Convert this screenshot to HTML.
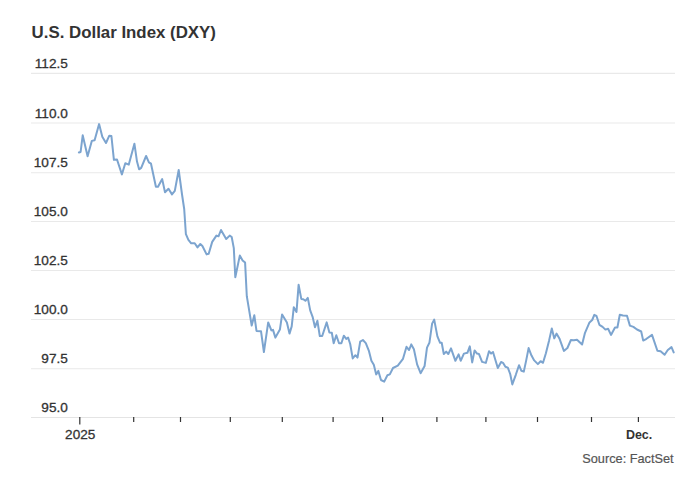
<!DOCTYPE html>
<html><head><meta charset="utf-8"><style>
html,body{margin:0;padding:0;background:#fff;}
body{width:687px;height:500px;overflow:hidden;position:relative;}
svg{position:absolute;left:0;top:0;}
text{font-family:"Liberation Sans",sans-serif;}
.yl{font-size:13.6px;fill:#333;stroke:#333;stroke-width:0.3px;}
</style></head><body>
<svg width="687" height="500" viewBox="0 0 687 500">
<text x="31.6" y="37.9" font-size="16.3" font-weight="bold" fill="#333" textLength="184.3" lengthAdjust="spacingAndGlyphs">U.S. Dollar Index (DXY)</text>
<line x1="31" x2="675" y1="73.4" y2="73.4" stroke="#e9e9e9" stroke-width="1.1"/>
<line x1="31" x2="675" y1="123.0" y2="123.0" stroke="#e9e9e9" stroke-width="1.1"/>
<line x1="31" x2="675" y1="172.8" y2="172.8" stroke="#e9e9e9" stroke-width="1.1"/>
<line x1="31" x2="675" y1="221.5" y2="221.5" stroke="#e9e9e9" stroke-width="1.1"/>
<line x1="31" x2="675" y1="270.5" y2="270.5" stroke="#e9e9e9" stroke-width="1.1"/>
<line x1="31" x2="675" y1="319.5" y2="319.5" stroke="#e9e9e9" stroke-width="1.1"/>
<line x1="31" x2="675" y1="368.8" y2="368.8" stroke="#e9e9e9" stroke-width="1.1"/>
<line x1="31" x2="675" y1="417.5" y2="417.5" stroke="#e4e4e4" stroke-width="1.1"/>
<line x1="79.8" x2="79.8" y1="417" y2="424.4" stroke="#333" stroke-width="1.2"/>
<line x1="133.7" x2="133.7" y1="417" y2="422" stroke="#333" stroke-width="1.2"/>
<line x1="180.5" x2="180.5" y1="417" y2="422" stroke="#333" stroke-width="1.2"/>
<line x1="230.3" x2="230.3" y1="417" y2="422" stroke="#333" stroke-width="1.2"/>
<line x1="282.3" x2="282.3" y1="417" y2="422" stroke="#333" stroke-width="1.2"/>
<line x1="333.1" x2="333.1" y1="417" y2="422" stroke="#333" stroke-width="1.2"/>
<line x1="382.6" x2="382.6" y1="417" y2="422" stroke="#333" stroke-width="1.2"/>
<line x1="436.9" x2="436.9" y1="417" y2="422" stroke="#333" stroke-width="1.2"/>
<line x1="485.9" x2="485.9" y1="417" y2="422" stroke="#333" stroke-width="1.2"/>
<line x1="537.5" x2="537.5" y1="417" y2="422" stroke="#333" stroke-width="1.2"/>
<line x1="591.5" x2="591.5" y1="417" y2="422" stroke="#333" stroke-width="1.2"/>
<line x1="638.4" x2="638.4" y1="417" y2="422" stroke="#333" stroke-width="1.2"/>
<text x="67.8" y="67.9" class="yl" text-anchor="end">112.5</text>
<text x="67.8" y="117.5" class="yl" text-anchor="end">110.0</text>
<text x="67.8" y="167.3" class="yl" text-anchor="end">107.5</text>
<text x="67.8" y="216.0" class="yl" text-anchor="end">105.0</text>
<text x="67.8" y="265.0" class="yl" text-anchor="end">102.5</text>
<text x="67.8" y="314.0" class="yl" text-anchor="end">100.0</text>
<text x="67.8" y="363.3" class="yl" text-anchor="end">97.5</text>
<text x="67.8" y="412.0" class="yl" text-anchor="end">95.0</text>
<text x="65.1" y="439" font-size="13.6" fill="#333" stroke="#333" stroke-width="0.3" textLength="30.2" lengthAdjust="spacingAndGlyphs">2025</text>
<text x="625.9" y="439" font-size="13.6" font-weight="bold" fill="#333" textLength="26.4" lengthAdjust="spacingAndGlyphs">Dec.</text>
<text x="582.3" y="463.4" font-size="13.3" fill="#555" stroke="#555" stroke-width="0.2" textLength="91.3" lengthAdjust="spacingAndGlyphs">Source: FactSet</text>
<path d="M78.9,152.5 L80.6,152.0 L82.7,135.3 L87.6,156.3 L91.8,140.9 L94.6,140.2 L99.1,124.1 L102.3,136.7 L106.0,143.0 L109.3,135.7 L111.4,136.0 L113.9,159.8 L117.0,159.5 L121.9,174.4 L125.3,163.3 L128.8,164.6 L134.4,143.7 L137.0,161.6 L139.1,169.3 L141.2,167.9 L146.1,156.0 L148.9,162.3 L151.0,163.7 L155.9,186.7 L158.0,186.7 L162.2,179.1 L165.0,192.3 L168.5,188.8 L172.0,194.4 L174.8,190.9 L178.7,170.0 L182.1,195.0 L184.2,209.0 L185.9,234.2 L188.4,239.8 L191.2,243.3 L194.7,243.3 L197.5,247.4 L200.3,244.0 L202.4,246.0 L206.6,254.4 L208.7,253.7 L212.2,241.9 L216.4,235.6 L218.5,236.3 L221.0,230.0 L226.2,239.0 L229.7,235.6 L231.7,237.0 L233.8,248.1 L235.3,277.3 L239.8,255.6 L242.6,260.5 L245.1,262.6 L246.8,296.2 L251.7,325.6 L254.3,315.2 L256.5,330.9 L261.0,331.2 L263.9,352.0 L268.2,322.4 L271.4,330.4 L273.0,329.9 L275.4,337.6 L279.9,329.6 L282.1,314.4 L286.9,322.4 L289.5,333.6 L291.7,326.4 L293.8,307.2 L296.5,312.0 L298.6,284.8 L301.3,298.9 L303.3,299.2 L305.4,300.8 L307.8,297.9 L310.2,310.4 L312.6,316.8 L315.0,327.2 L317.4,320.8 L319.8,336.0 L322.2,336.0 L326.7,322.4 L329.4,332.5 L331.8,332.8 L333.7,343.2 L336.3,335.2 L339.0,343.2 L341.4,343.2 L343.8,335.7 L346.2,338.9 L348.1,337.6 L350.2,344.0 L352.7,358.4 L355.4,355.2 L357.5,357.6 L360.2,341.6 L362.9,340.0 L365.8,343.2 L369.0,351.2 L371.4,360.8 L373.8,364.8 L376.2,374.4 L378.3,370.9 L381.0,380.0 L384.2,381.6 L387.4,375.2 L389.8,374.4 L393.0,368.0 L397.8,365.6 L403.0,358.8 L406.5,346.8 L409.1,350.0 L411.3,344.4 L413.9,349.2 L417.1,364.4 L420.6,373.2 L424.6,366.0 L427.0,347.6 L429.4,342.8 L432.1,323.6 L434.2,319.6 L437.4,336.4 L440.1,342.8 L441.7,342.8 L443.8,354.0 L446.2,351.6 L448.3,354.0 L451.0,348.4 L455.4,360.8 L458.6,354.4 L460.7,360.8 L463.9,353.6 L467.4,352.8 L469.8,346.4 L472.2,362.4 L474.6,350.4 L477.0,353.6 L478.9,353.9 L482.1,361.9 L485.8,362.9 L489.0,351.2 L491.1,353.6 L493.0,352.0 L497.8,368.0 L501.1,362.0 L503.0,362.8 L505.4,366.8 L507.8,367.6 L510.2,374.0 L512.3,384.4 L515.8,374.8 L519.0,365.2 L521.4,370.8 L523.8,371.6 L526.2,360.4 L528.6,348.1 L531.5,355.6 L534.2,360.4 L537.9,364.1 L540.6,361.2 L543.0,362.8 L545.9,353.2 L549.1,340.4 L551.8,328.4 L554.3,338.4 L556.5,333.6 L559.4,338.4 L563.9,350.9 L567.4,348.0 L570.9,340.0 L573.8,340.3 L577.0,339.7 L582.1,344.5 L585.0,332.8 L589.5,322.4 L592.2,320.0 L594.3,314.9 L596.5,316.0 L599.4,324.8 L602.6,326.9 L605.4,329.6 L608.1,328.8 L611.0,334.9 L615.0,327.5 L617.4,327.5 L619.8,314.7 L623.0,315.4 L627.0,315.7 L629.9,325.6 L633.4,326.9 L637.0,329.5 L641.2,331.5 L643.2,340.6 L646.5,338.8 L652.0,334.9 L657.4,350.8 L660.6,351.3 L664.6,354.8 L667.8,350.0 L671.5,347.1 L673.7,352.4" fill="none" stroke="#7ca4cf" stroke-width="2" stroke-linejoin="round" stroke-linecap="round"/>
</svg>
</body></html>
